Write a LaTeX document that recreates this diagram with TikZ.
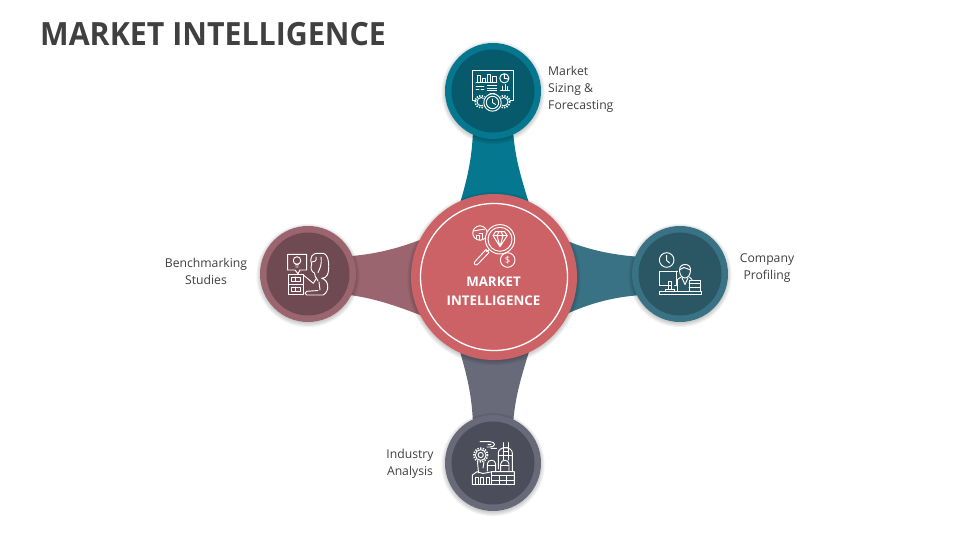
\documentclass[tikz,border=0pt]{standalone}
\usepackage{fontspec}
\usepackage{graphicx}
\setmainfont{Open Sans}
\definecolor{inktxt}{HTML}{404040}
\definecolor{tealo}{HTML}{05778F}\definecolor{teali}{HTML}{075A6B}
\definecolor{redo}{HTML}{CD6266}
\definecolor{roseo}{HTML}{9A656E}\definecolor{rosei}{HTML}{6F4A52}
\definecolor{blueo}{HTML}{3A7285}\definecolor{bluei}{HTML}{2B5663}
\definecolor{grayo}{HTML}{686A7A}\definecolor{grayi}{HTML}{4B4D5A}
\tikzset{
  x=1pt,y=-1pt,
  outerdisc/.style={circle,inner sep=0pt,minimum size=96pt},
  innerdisc/.style={circle,inner sep=0pt,minimum size=83pt},
  shade1/.style={circle,inner sep=0pt,fill=black,fill opacity=0.05},
  lbl/.style={text=inktxt,font=\fontsize{12.2}{17}\selectfont,inner sep=0pt},
  ico/.style={draw=white,line width=0.95pt,line cap=round,line join=round},
  gearline/.style={draw=white,line width=1.6pt,dash pattern=on 1.3pt off 1.3pt},
}
\newcommand{\softshadow}[3]{%
  \foreach \extra in {0,1.2,2.4,3.6}{%
    \node[shade1,minimum size={#3+\extra*2}] at (#1,#2+1.5) {};}}
\begin{document}
\begin{tikzpicture}
\useasboundingbox (0,0) rectangle (960,540);
\fill[white] (0,0) rectangle (960,540);
\node[anchor=west,inner sep=0pt,text=inktxt,font=\fontsize{32}{36}\selectfont\bfseries] (title) at (40,34) {\scalebox{0.948}[1]{MARKET INTELLIGENCE}};

% ribbons
\fill[tealo] (473,130) .. controls (472,160) and (467,180) .. (458,210) -- (531,210) .. controls (522,180) and (515,160) .. (513,130) -- cycle;
\fill[grayo] (458,345) .. controls (467,375) and (472,395) .. (473,425) -- (513,425) .. controls (515,395) and (522,375) .. (531,345) -- cycle;
\fill[roseo] (345,256.5) .. controls (370,255) and (395,250) .. (425,238) -- (425,317) .. controls (395,305) and (370,297) .. (345,294.5) -- cycle;
\fill[blueo] (560,238) .. controls (585,249) and (610,255) .. (642,257) -- (642,295) .. controls (610,297) and (585,305) .. (560,317) -- cycle;

% discs
\softshadow{493}{91}{96}
\node[outerdisc,fill=tealo] (topo) at (493,91) {};
\node[innerdisc,fill=teali] (topi) at (493,91) {};
\softshadow{308}{274}{96}
\node[outerdisc,fill=roseo] (lefto) at (308,274) {};
\node[innerdisc,fill=rosei] (lefti) at (308,274) {};
\softshadow{680}{274}{96}
\node[outerdisc,fill=blueo] (righto) at (680,274) {};
\node[innerdisc,fill=bluei] (righti) at (680,274) {};
\softshadow{493}{463}{96}
\node[outerdisc,fill=grayo] (boto) at (493,463) {};
\node[innerdisc,fill=grayi] (boti) at (493,463) {};
\softshadow{494}{277}{166}
\node[circle,inner sep=0pt,minimum size=166pt,fill=redo] (hub) at (494,277) {};
\node[circle,inner sep=0pt,minimum size=147pt,draw=white,line width=1.3pt] (hubring) at (494,277) {};

% hub text
\node[text=white,font=\fontsize{13.3}{19}\selectfont\bfseries,align=center,inner sep=0pt] (hubtext) at (493.5,291) {MARKET\\INTELLIGENCE};

% labels
\node[lbl,align=left,anchor=west] (l1) at (548,89.8) {Market\\Sizing \&\\Forecasting};
\node[lbl,align=center] (l2) at (206,271.2) {Benchmarking\\Studies};
\node[lbl,align=center] (l3) at (767,268) {Company\\Profiling};
\node[lbl,align=center] (l4) at (410,464) {Industry\\Analysis};

% icon: top
\begin{scope}[shift={(468,66)}]
  \draw[ico] (8,34.5) -- (4.3,34.5) -- (4.3,4.7) -- (45.3,4.7) -- (45.3,34.5) -- (42,34.5);
  \draw[ico] (9,15.7) -- (9,9.5) -- (12,9.5) -- (12,15.7) (14,15.7) -- (14,12) -- (17,12) -- (17,15.7) (19,15.7) -- (19,8.7) -- (22,8.7) -- (22,15.7) (24,15.7) -- (24,10.5) -- (28,10.5) -- (28,15.7) (8,16.2) -- (29,16.2);
  \draw[ico] (36.3,12.3) circle (4.6) (36.3,7.7) -- (36.3,12.3) -- (40.8,13);
  \draw[ico] (8,20.7) -- (16,20.7) (8,23.5) -- (11,23.5) (13,23.5) -- (16,23.5) (19.3,19.5) -- (28.7,19.5) (19.3,22) -- (28.7,22) (19.3,24.5) -- (28.7,24.5);
  \draw[ico] (32.7,24) -- (41.3,24) (34.5,24) -- (34.5,20) (37,24) -- (37,18.5) (39.5,24) -- (39.5,20.5);
  \draw[ico] (13.2,35.7) circle (4.2) (35.8,35.7) circle (4.2);
  \draw[gearline] (13.2,35.7) circle (6) (35.8,35.7) circle (6);
  \fill[teali] (24.5,36.5) circle (9.8);
  \draw[ico] (24.5,36.5) circle (8.7) (24.5,36.5) circle (6.2) (24.5,33) -- (24.5,36.5) -- (27.5,38.5);
  \draw[ico] (22,27) -- (27,27);
\end{scope}

% icon: hub
\begin{scope}[shift={(468,220)}]
  \draw[ico] (12,13) circle (7.2);
  \draw[ico] (5.2,11) -- (17,9);
  \draw[ico] (8,19) -- (8,15) -- (11,15) -- (11,19.5) (11,13.5) -- (14.5,13.5) -- (14.5,19.5);
  \fill[redo] (32,19.3) circle (15.2);
  \draw[ico] (32,19.3) circle (14.7) (32,19.3) circle (12);
  \draw[ico] (25,15.5) -- (27.5,11.7) -- (36.5,11.7) -- (39.3,15.5) -- (32,26.7) -- cycle (25,15.5) -- (39.3,15.5) (29,15.5) -- (32,26.7) -- (35,15.5) (29,15.5) -- (31,11.7) (35,15.5) -- (33,11.7);
  \draw[ico] (21.5,29.5) -- (18.5,31.5);
  \draw[ico] (18,29.5) -- (21,32.5) -- (10,44) .. controls (7.5,46.5) and (5,43.5) .. (7,41.5) -- cycle;
  \draw[ico] (39.7,40) circle (7.3);
  \node[text=white,font=\fontsize{9.5}{10}\selectfont,inner sep=0pt] (dollar) at (39.7,40) {\$};
\end{scope}

% icon: left
\begin{scope}[shift={(283,249)}]
  \draw[ico] (4.7,5.3) -- (23.7,5.3) -- (23.7,21) -- (17,21) -- (15,24.7) -- (12,21) -- (4.7,21) -- cycle;
  \draw[ico] (14,11.5) circle (3.8) (12.5,16) -- (15.5,16) (12.8,18) -- (15.2,18);
  \draw[ico] (5.3,25.3) rectangle (20.3,45.3) (5.3,35) -- (20.3,35);
  \draw[ico] (8,28) rectangle (17.5,32.5) (8,38) rectangle (17.5,42.5) (12,28) -- (12,32.5) (12,38) -- (12,42.5);
  \draw[ico] (35,32) .. controls (33,28) and (31,27) .. (31.5,24) .. controls (28.5,23) and (27,19) .. (28.7,15) .. controls (26,8) and (30,4.3) .. (34,4.3) -- (40,4.3) .. controls (47,5) and (46.5,22) .. (44.3,26) .. controls (43.5,28.5) and (41,29) .. (38.7,29.3) .. controls (46,31) and (47,42) .. (40.3,46) -- (23.7,46) .. controls (21.5,46) and (21.5,42.7) .. (23.7,42.3) -- (35,41.5);
  \draw[ico] (33,8) .. controls (34,12) and (31.5,13) .. (29,13);
  \draw[ico] (35,23.5) .. controls (37,19) and (39,16) .. (38,8);
  \draw[ico] (20.3,26) -- (30.3,34.3) -- (33.7,29) (36,33) -- (37,41);
\end{scope}

% icon: right
\begin{scope}[shift={(655,249)}]
  \draw[ico] (11.7,11) circle (7.3) (11.7,6.5) -- (11.7,11.5) -- (14.5,14);
  \draw[ico] (22.5,22) -- (4.3,22) -- (4.3,36) -- (16,36) (21.7,22) -- (21.7,36) -- (19.5,36);
  \draw[ico] (12,22) -- (13,22);
  \draw[ico] (13.5,40) -- (13.5,32) -- (16.5,32) -- (16.5,40) (10.5,42) -- (10.5,40) -- (19.5,40) -- (19.5,42);
  \draw[ico] (4.3,42) rectangle (46,45.3);
  \draw[ico] (24.5,22) .. controls (24,16.5) and (28,15.5) .. (30,15.5) .. controls (33,15.5) and (36,17) .. (35.5,22) .. controls (35,26) and (33,29) .. (30,29) .. controls (27,29) and (25,26) .. (24.5,22);
  \draw[ico] (25,20.5) -- (29,18.5) -- (35.5,21);
  \draw[ico] (26,28) -- (22.5,30.5) -- (22.5,42) (34.5,28) -- (37,30.5) (27,29) -- (30,35.5) -- (33,29);
  \draw[ico] (34,31) rectangle (45.7,42) (34,34.6) -- (45.7,34.6) (34,38.3) -- (45.7,38.3);
\end{scope}

% icon: bottom
\begin{scope}[shift={(468,438)}]
  \draw[ico] (12.7,17) circle (2.6) (12.7,17) circle (5.4);
  \draw[gearline] (12.7,17) circle (6.8);
  \draw[ico] (9.5,24) -- (10.5,35) (16,24) -- (15,30);
  \draw[ico] (12,3.7) -- (22,3.7) .. controls (28,3.7) and (28,9) .. (22,9) -- (19,9) (23,10.3) -- (28.7,10.3) (20,6.7) -- (23,6.7);
  \draw[ico] (30.3,31) -- (30.3,15) .. controls (30.3,8) and (44.3,8) .. (44.3,15) -- (44.3,33.5);
  \draw[ico] (30.3,17.5) -- (44.3,17.5) (35,4.7) -- (35,22) (40,4.7) -- (40,22) (35,9) -- (40,9) (35,13) -- (40,13);
  \draw[ico] (19.3,33) -- (19.3,26) .. controls (19.3,21) and (27.7,21) .. (27.7,26) -- (27.7,33) (19.3,27.5) -- (27.7,27.5);
  \draw[ico] (32.7,33) -- (32.7,26) .. controls (32.7,21) and (41,21) .. (41,26) -- (41,33) (32.7,27.5) -- (41,27.5);
  \draw[ico] (4.3,46.5) -- (4.3,37) -- (9,33.7) -- (15,35.5) -- (24,33.7) -- (46.3,33.7) -- (46.3,46.5) -- cycle;
  \draw[ico] (23.7,37.5) -- (46.3,37.5) (23.7,33.7) -- (23.7,46.5) (23.7,42) -- (46.3,42) (31,37.5) -- (31,46.5) (38.7,37.5) -- (38.7,46.5);
  \draw[ico] (7,46) -- (7,39) -- (10,39) -- (10,46) (12.5,46) -- (12.5,39) -- (15.5,39) -- (15.5,46) (18,46) -- (18,39) -- (21,39) -- (21,46);
\end{scope}
\end{tikzpicture}
\end{document}
